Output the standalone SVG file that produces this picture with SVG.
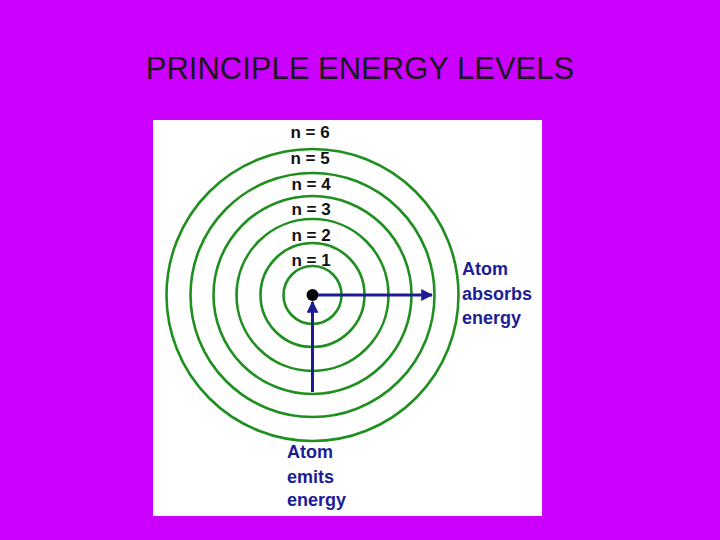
<svg xmlns="http://www.w3.org/2000/svg" width="720" height="540" viewBox="0 0 720 540">
<defs>
<style>
.orb{fill:none;stroke:#1f8f1f;stroke-width:2.6}
.lbl{font-family:"Liberation Sans",Arial,sans-serif;font-weight:bold;font-size:17px;fill:#111}
.blu{font-family:"Liberation Sans",Arial,sans-serif;font-weight:bold;font-size:18px;fill:#1c1c96}
.arr{stroke:#1c1c96;stroke-width:3;fill:none}
</style>
<marker id="ah" viewBox="0 0 10 10" refX="9" refY="5" markerWidth="4" markerHeight="4" orient="auto"><path d="M0,0L10,5L0,10z" fill="#1c1c96"/></marker>
</defs>
<rect width="720" height="540" fill="#cc00ff"/>
<text x="360" y="79" text-anchor="middle" font-family="Liberation Sans,Arial,sans-serif" font-size="31" fill="#1a1a1a">PRINCIPLE ENERGY LEVELS</text>
<rect x="153" y="120" width="389" height="396" fill="#fff"/>
<g id="orbits">
<circle class="orb" cx="312.5" cy="295" r="29"/>
<circle class="orb" cx="312.5" cy="295" r="52"/>
<circle class="orb" cx="312.5" cy="295" r="76"/>
<circle class="orb" cx="312.5" cy="295" r="99"/>
<circle class="orb" cx="312.5" cy="295" r="122"/>
<circle class="orb" cx="312.5" cy="295" r="146"/>
</g>
<g id="labels" class="lbl" text-anchor="middle">
<text class="lbl" x="310" y="138">n = 6</text>
<text class="lbl" x="310" y="164">n = 5</text>
<text class="lbl" x="311" y="190">n = 4</text>
<text class="lbl" x="311" y="215">n = 3</text>
<text class="lbl" x="311" y="241">n = 2</text>
<text class="lbl" x="311" y="266">n = 1</text>
</g>
<g id="nucleus"><circle cx="312.5" cy="295" r="6" fill="#000"/></g>
<g id="connectors">
<line class="arr" x1="318" y1="295" x2="432" y2="295" marker-end="url(#ah)"/>
<line class="arr" x1="312.5" y1="392" x2="312.5" y2="302" marker-end="url(#ah)"/>
</g>
<g id="absorbs">
<text class="blu" x="462" y="275">Atom</text>
<text class="blu" x="462" y="300">absorbs</text>
<text class="blu" x="462" y="324">energy</text>
</g>
<g id="emits">
<text class="blu" x="287" y="458">Atom</text>
<text class="blu" x="287" y="483">emits</text>
<text class="blu" x="287" y="506">energy</text>
</g>
</svg>
